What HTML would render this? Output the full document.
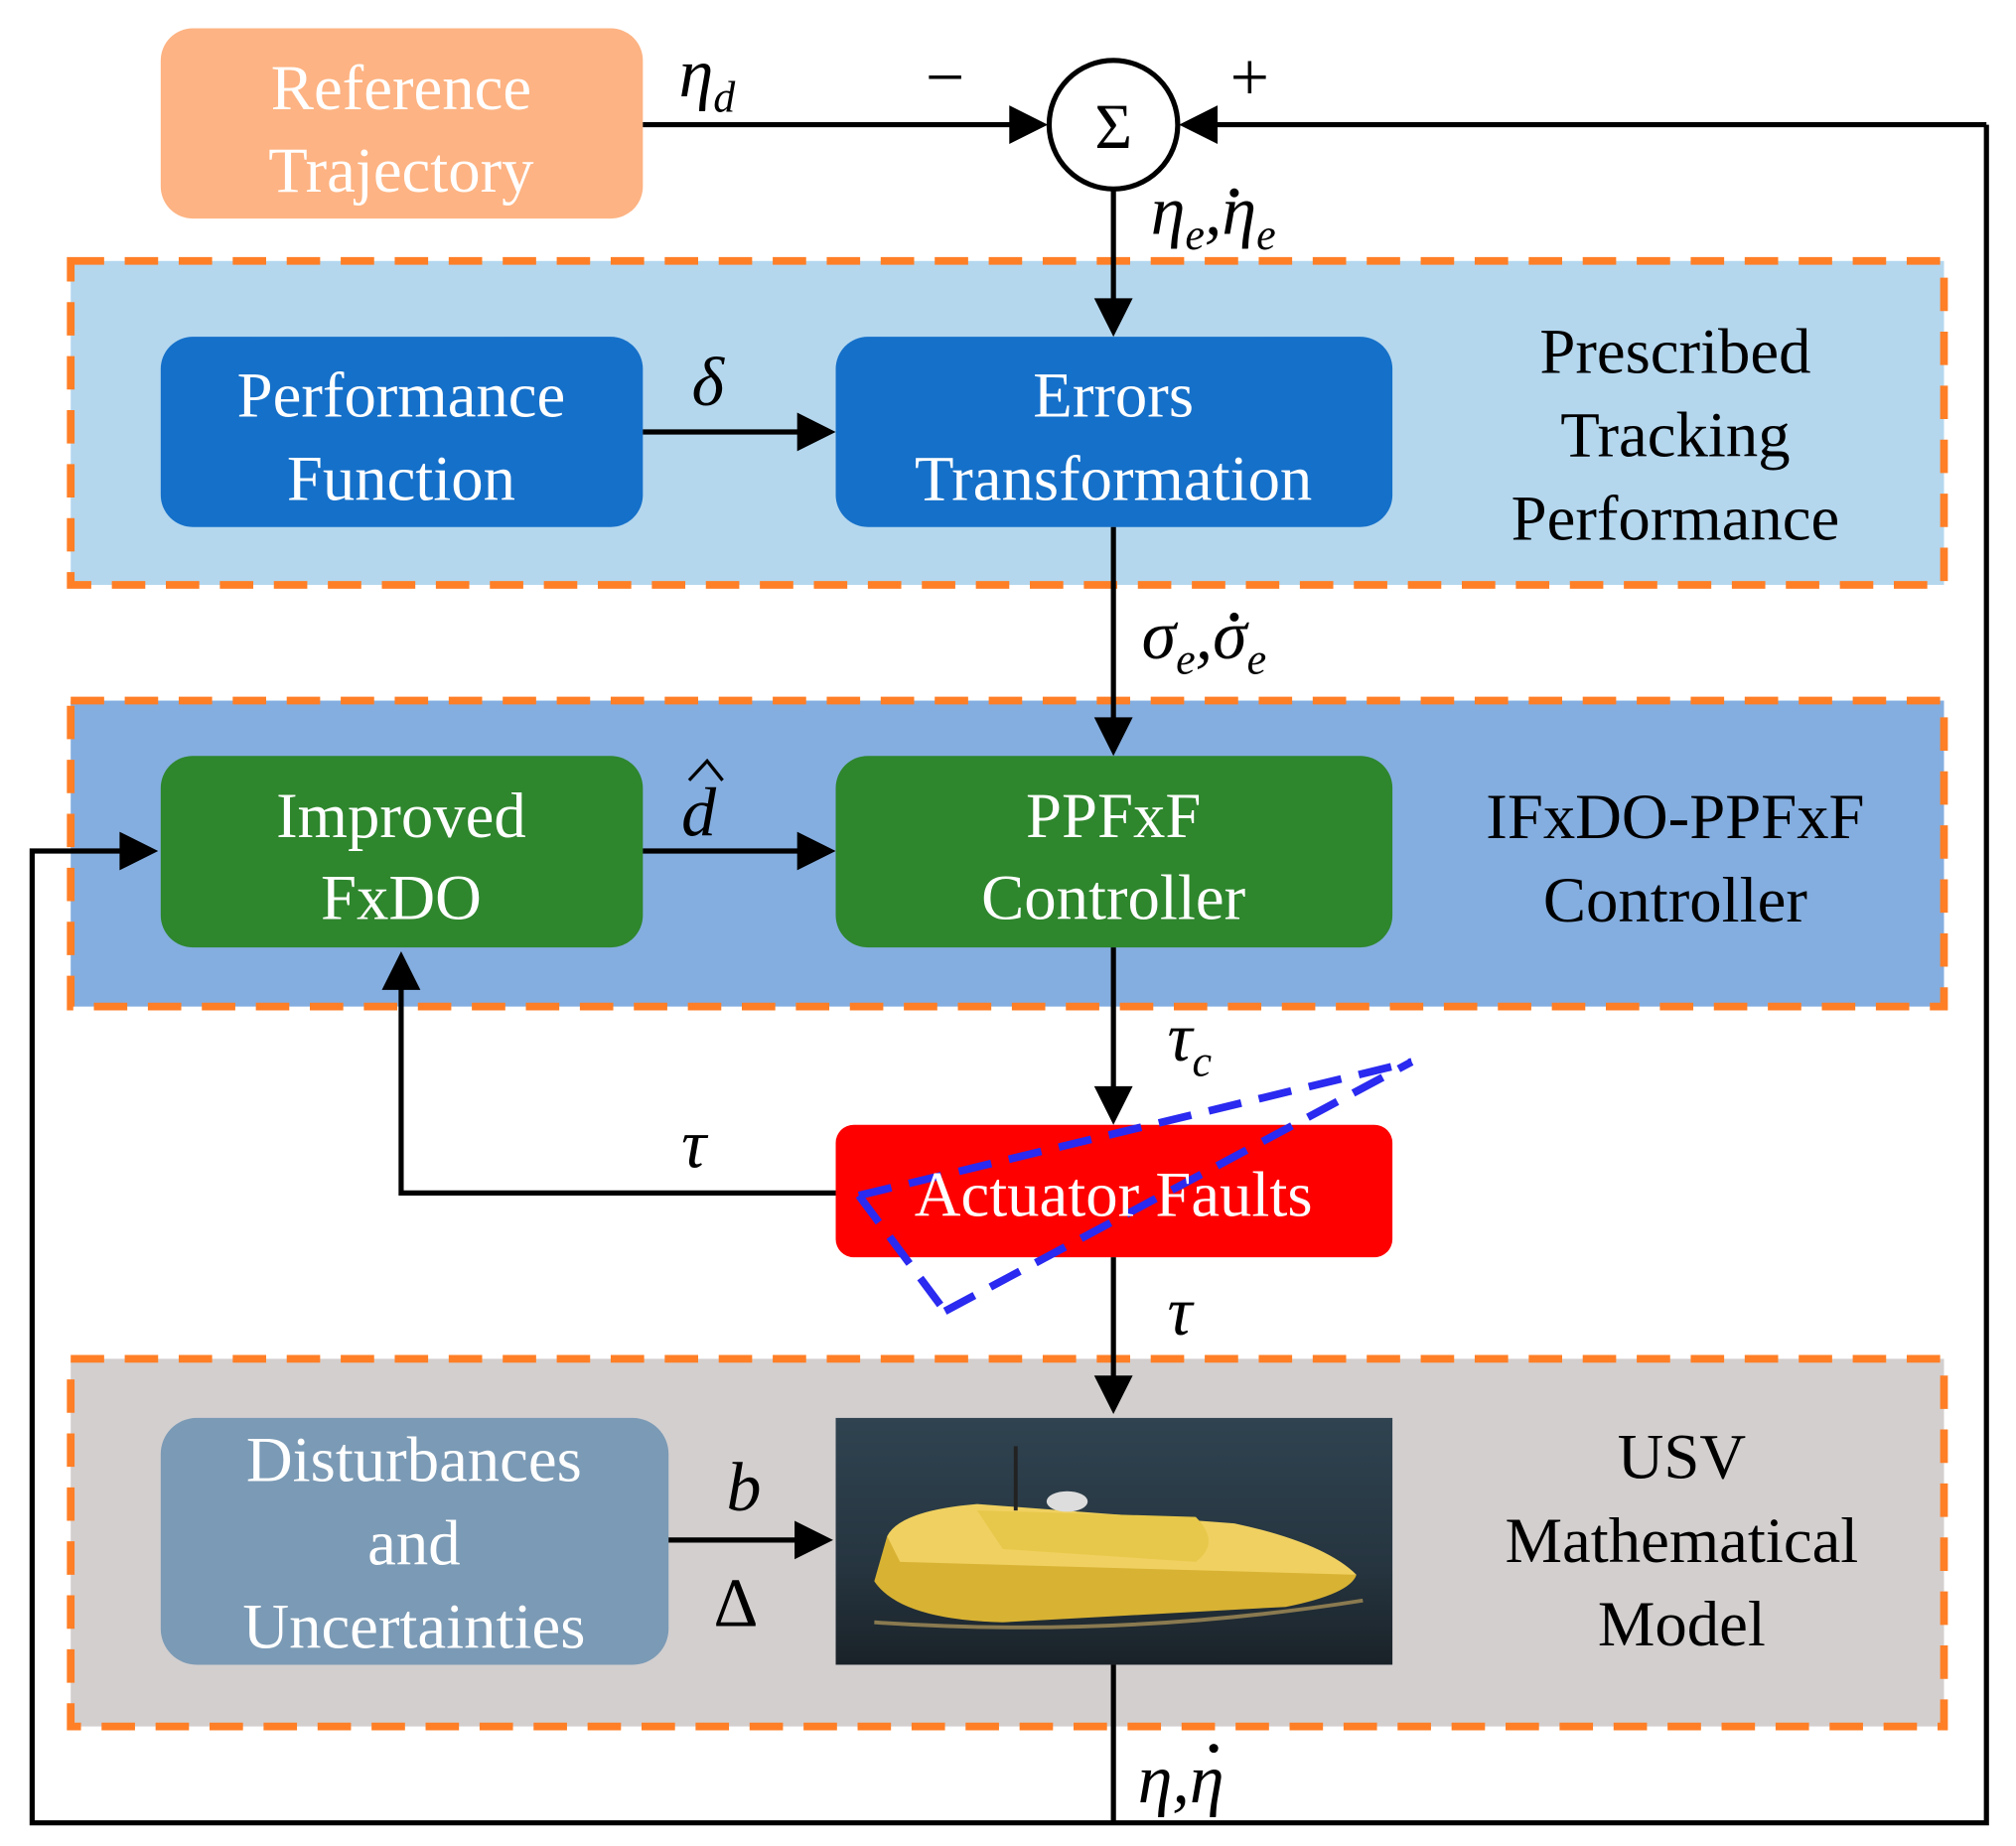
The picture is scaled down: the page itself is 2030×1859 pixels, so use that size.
<!DOCTYPE html>
<html><head><meta charset="utf-8"><style>html,body{margin:0;padding:0;background:#fff}svg{display:block}</style></head>
<body>
<svg width="2030" height="1859" viewBox="0 0 1568 1436" preserveAspectRatio="none" xmlns="http://www.w3.org/2000/svg" font-family="Liberation Serif, serif">
<defs>
<linearGradient id="water" x1="0" y1="0" x2="0" y2="1"><stop offset="0" stop-color="#2f4350"/><stop offset="0.6" stop-color="#263540"/><stop offset="1" stop-color="#1a2228"/></linearGradient>
</defs>
<rect x="55" y="203" width="1457" height="252" fill="#B4D7EE" stroke="#FF7F27" stroke-width="6" stroke-dasharray="26 16"/>
<rect x="55" y="545" width="1457" height="238" fill="#84AEE0" stroke="#FF7F27" stroke-width="6" stroke-dasharray="26 16"/>
<rect x="55" y="1057" width="1457" height="286" fill="#D3CFCF" stroke="#FF7F27" stroke-width="6" stroke-dasharray="26 16"/>
<rect x="125" y="22" width="375" height="148" rx="25" fill="#FDB383"/>
<rect x="125" y="262" width="375" height="148" rx="25" fill="#1570C9"/>
<rect x="650" y="262" width="433" height="148" rx="25" fill="#1570C9"/>
<rect x="125" y="588" width="375" height="149" rx="25" fill="#2E862D"/>
<rect x="650" y="588" width="433" height="149" rx="25" fill="#2E862D"/>
<rect x="650" y="875" width="433" height="103" rx="14" fill="#FF0000"/>
<rect x="125" y="1103" width="395" height="192" rx="28" fill="#7B9AB5"/>
<rect x="650" y="1103" width="433" height="192" fill="url(#water)"/>
<path d="M680 1230 Q700 1260 780 1262 L1000 1250 Q1050 1240 1055 1225 L690 1195 Z" fill="#d8b233"/>
<path d="M690 1195 Q700 1175 760 1170 L960 1185 Q1030 1200 1055 1225 L700 1215 Z" fill="#f0d060"/>
<path d="M760 1175 L930 1180 Q950 1200 930 1215 L780 1205 Z" fill="#e8c84a"/>
<ellipse cx="830" cy="1168" rx="16" ry="8" fill="#ddd"/>
<line x1="790" y1="1125" x2="790" y2="1175" stroke="#222" stroke-width="3"/>
<path d="M680 1262 Q870 1275 1060 1245" stroke="#8a7a50" stroke-width="3" fill="none"/>
<g stroke="#000" stroke-width="4" fill="none">
<line x1="500" y1="97" x2="790" y2="97"/>
<polyline points="1545,97 1545,1418 25,1418 25,662 95,662"/>
<line x1="1545" y1="97" x2="943" y2="97"/>
<line x1="866" y1="147" x2="866" y2="235"/>
<line x1="500" y1="336" x2="622" y2="336"/>
<line x1="866" y1="410" x2="866" y2="560"/>
<line x1="500" y1="662" x2="622" y2="662"/>
<line x1="866" y1="737" x2="866" y2="848"/>
<polyline points="650,928 312,928 312,768"/>
<line x1="866" y1="978" x2="866" y2="1073"/>
<line x1="520" y1="1198" x2="620" y2="1198"/>
<line x1="866" y1="1295" x2="866" y2="1418"/>
</g>
<circle cx="866" cy="97" r="50" fill="#fff" stroke="#000" stroke-width="4"/>
<g fill="#000">
<polygon points="815,97 785,82 785,112"/>
<polygon points="917,97 947,82 947,112"/>
<polygon points="866,262 851,232 881,232"/>
<polygon points="650,336 620,321 620,351"/>
<polygon points="866,588 851,558 881,558"/>
<polygon points="650,662 620,647 620,677"/>
<polygon points="123,662 93,647 93,677"/>
<polygon points="866,875 851,845 881,845"/>
<polygon points="312,740 297,770 327,770"/>
<polygon points="866,1100 851,1070 881,1070"/>
<polygon points="648,1198 618,1183 618,1213"/>
</g>
<g stroke="#2A2AF0" stroke-width="6" stroke-dasharray="26 14" fill="none">
<line x1="668" y1="930" x2="1098" y2="826"/>
<line x1="668" y1="930" x2="735" y2="1020"/>
<line x1="735" y1="1020" x2="1098" y2="826"/>
</g>
<g fill="#fff" font-size="50" text-anchor="middle">
<text x="312" y="85">Reference</text><text x="312" y="149">Trajectory</text>
<text x="312" y="324">Performance</text><text x="312" y="389">Function</text>
<text x="866" y="324">Errors</text><text x="866" y="389">Transformation</text>
<text x="312" y="651">Improved</text><text x="312" y="715">FxDO</text>
<text x="866" y="651">PPFxF</text><text x="866" y="715">Controller</text>
<text x="866" y="946">Actuator Faults</text>
<text x="322" y="1152">Disturbances</text><text x="322" y="1217">and</text><text x="322" y="1282">Uncertainties</text>
</g>
<g fill="#000" font-size="50" text-anchor="middle">
<text x="1303" y="290">Prescribed</text><text x="1303" y="355">Tracking</text><text x="1303" y="420">Performance</text>
<text x="1303" y="652">IFxDO-PPFxF</text><text x="1303" y="717">Controller</text>
<text x="1308" y="1150">USV</text><text x="1308" y="1215">Mathematical</text><text x="1308" y="1280">Model</text>
<text x="866" y="115" font-size="50">Σ</text>
<text x="735" y="78" font-size="54">−</text>
<text x="972" y="78" font-size="54">+</text>
</g>
<g fill="#000" font-size="54" font-style="italic">
<text x="528" y="75">η<tspan font-size="34" dy="12">d</tspan></text>
<text x="895" y="182">η<tspan font-size="34" dy="12">e</tspan><tspan dy="-12">,η</tspan><tspan font-size="34" dy="12">e</tspan></text>
<text x="538" y="315">δ</text>
<text x="888" y="512">σ<tspan font-size="34" dy="12">e</tspan><tspan dy="-12">,σ</tspan><tspan font-size="34" dy="12">e</tspan></text>
<text x="530" y="650">d</text>
<text x="908" y="825">τ<tspan font-size="34" dy="12">c</tspan></text>
<text x="530" y="908">τ</text>
<text x="908" y="1038">τ</text>
<text x="565" y="1175">b</text>
<text x="555" y="1265" font-style="normal">Δ</text>
<text x="885" y="1402">η,η</text>
</g>
<g fill="#000">
<circle cx="960" cy="150" r="3.5"/>
<circle cx="960" cy="480" r="3.5"/>
<circle cx="944" cy="1360" r="3.5"/>
</g>
<path d="M536 607 L550 592 L562 607" stroke="#000" stroke-width="2.5" fill="none"/>
</svg>
</body></html>
